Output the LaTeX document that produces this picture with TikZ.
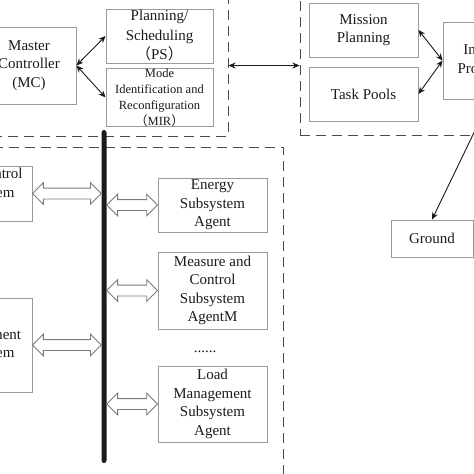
\documentclass[tikz,border=0pt]{standalone}
\usepackage{fontspec}
\setmainfont{Liberation Serif}
\newfontfamily\cjk{Noto Sans CJK SC}
\usetikzlibrary{arrows.meta,shapes.arrows,calc}
\definecolor{boxgray}{HTML}{9A9A9A}
\definecolor{dashgray}{HTML}{4A4A4A}
\definecolor{arrowgray}{HTML}{7A7A7A}
\definecolor{ink}{HTML}{1A1A1A}
\newcommand\hollowlink[2]{\path let \p1=(#1), \p2=(#2) in node[hollow, minimum height={\x2-\x1}] at ($(\p1)!0.5!(\p2)$) {};}
\begin{document}
\begin{tikzpicture}[x=1pt,y=-1pt,
  box/.style={draw=boxgray, line width=0.9pt, inner sep=0pt, align=center, text=ink,
              font=\fontsize{15}{18.5}\selectfont},
  smallbox/.style={box, font=\fontsize{12.5}{16}\selectfont},
  dbox/.style={draw=dashgray, line width=1pt, dash pattern=on 10pt off 6pt, inner sep=0pt},
  link/.style={draw=ink, line width=0.9pt, {Stealth[length=7pt,width=6pt]}-{Stealth[length=7pt,width=6pt]}},
  onelink/.style={draw=ink, line width=0.9pt, -{Stealth[length=7pt,width=6pt]}},
  hollow/.style={double arrow, draw=arrowgray, fill=white, line width=0.8pt, inner sep=5pt,
                 double arrow head extend=5.5pt, double arrow tip angle=90, minimum width=0pt},
  busbar/.style={fill=ink, inner sep=0pt, minimum width=5pt, rounded corners=2.5pt}
]
\useasboundingbox (0,0) rectangle (474,474);
\clip (0,0) rectangle (474,474);

% dashed groups
\node[dbox, minimum width=268pt, minimum height=176pt] (tl) at (94,48) {};
\node[dbox, minimum width=260pt, minimum height=175pt] (tr) at (430,47.5) {};
\node[dbox, minimum width=323pt, minimum height=373pt] (lw) at (121.5,333.5) {};

% top-left group
\node[box, minimum width=94pt, minimum height=77pt] (mc) at (29,65.5) {Master\\Controller\\(MC)};
\node[box, minimum width=107pt, minimum height=54pt, font=\fontsize{15}{19.5}\selectfont] (ps) at (159.5,36)
  {Planning/\\Scheduling\\{\cjk （}PS{\cjk ）}};
\node[smallbox, minimum width=107pt, minimum height=57pt] (mir) at (159.5,97.5)
  {Mode\\Identification and\\Reconfiguration\\{\cjk （}MIR{\cjk ）}};

% top-right group
\node[box, minimum width=109pt, minimum height=54pt] (mp) at (363.5,30) {Mission\\Planning};
\node[box, minimum width=109pt, minimum height=54pt] (tp) at (363.5,94) {Task Pools};
\node[box, minimum width=94pt, minimum height=77pt] (info) at (490,60.5) {Interface\\Processing};

\node[box, minimum width=82pt, minimum height=37pt] (ground) at (432,238.5) {Ground};

% lower group
\node[busbar, minimum height=333pt] (bus) at (104,296.5) {};
\node[box, minimum width=100pt, minimum height=55pt] (ol) at (-18,193.5) {Orbit Control\\Subsystem\\Agent};
\node[box, minimum width=100pt, minimum height=94pt] (om) at (-18,345) {Data\\Management\\Subsystem\\Agent};
\node[box, minimum width=109pt, minimum height=54pt] (en) at (212.5,205) {Energy\\Subsystem\\Agent};
\node[box, minimum width=109pt, minimum height=77pt] (ms) at (212.5,290.5) {Measure and\\Control\\Subsystem\\AgentM};
\node[box, draw=none, inner sep=0pt] (dots) at (205,352) {......};
\node[box, minimum width=109pt, minimum height=76pt] (ld) at (212.5,404) {Load\\Management\\Subsystem\\Agent};

% connectors
\draw[link] (mc.east) -- (ps.west);
\draw[link] (mc.east) -- (mir.west);
\draw[link] (tl.east |- mc.east) -- (tr.west |- mc.east);
\draw[link] (mp.east) -- (info.west);
\draw[link] (info.west) -- (tp.east);
\draw[onelink] (info.south) -- (ground.north);

\hollowlink{ol.east}{bus.west |- ol.east}
\hollowlink{om.east}{bus.west |- om.east}
\hollowlink{bus.east |- en.west}{en.west}
\hollowlink{bus.east |- ms.west}{ms.west}
\hollowlink{bus.east |- ld.west}{ld.west}
\end{tikzpicture}
\end{document}
